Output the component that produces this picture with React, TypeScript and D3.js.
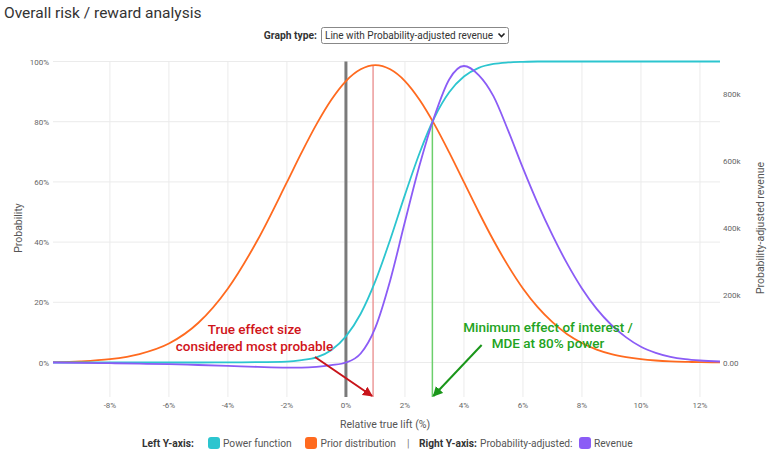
import React from "react";
import * as d3 from "d3";

// ---- Data ----
const lift = [-9.93, -9, -8, -7, -6, -5, -4, -3, -2, -1.5, -1, -0.5, 0, 0.5, 1, 1.5, 2, 2.5, 3, 3.5, 4, 4.5, 5, 5.5, 6, 6.5, 7, 7.5, 8, 8.5, 9, 9.5, 10, 10.5, 11, 11.5, 12, 12.68];
const powerFn = [0, 0, 0, 0, 0, 0, 0.05, 0.1, 0.3, 0.8, 1.7, 4.1, 8.7, 16.2, 27.1, 40.8, 55.7, 69.7, 81.4, 89.8, 95.0, 97.9, 99.2, 99.7, 99.9, 100, 100, 100, 100, 100, 100, 100, 100, 100, 100, 100, 100, 100];
const prior = [0.13, 0.38, 1.1, 2.8, 6.3, 13.2, 24.6, 40.6, 59.9, 69.8, 79.1, 87.2, 93.5, 97.4, 98.8, 97.4, 93.5, 87.2, 79.1, 69.8, 59.9, 50.0, 40.6, 32.1, 24.6, 18.4, 13.4, 9.4, 6.5, 4.3, 2.8, 1.8, 1.1, 0.66, 0.38, 0.22, 0.12, 0.05];
const revenue = [0, -1000, -2000, -3500, -5000, -7500, -10000, -13000, -15000, -15000, -13000, -8000, 0, 27000, 105000, 245000, 420000, 590000, 735000, 845000, 885000, 858000, 795000, 692000, 580000, 475000, 380000, 295000, 221000, 160000, 112000, 75000, 47000, 29000, 17000, 10000, 6000, 3000];

const xTicks = [-8, -6, -4, -2, 0, 2, 4, 6, 8, 10, 12];
const leftTicks = [0, 20, 40, 60, 80, 100];
const rightTicks = [0, 200000, 400000, 600000, 800000];

const mostProbable = 0.92;
const mde = 2.93;
const mdePower = 80;

const COLORS = { power: "#2cc5cf", prior: "#ff6a1f", revenue: "#8b5cf6" };
const FONT = "Roboto, 'Noto Sans', sans-serif";

export default function App() {
  const W = 768, H = 459;
  const plot = { left: 53, right: 720, top: 61.5, bottom: 397 };
  const x = d3.scaleLinear().domain([-9.93, 12.68]).range([plot.left, plot.right]);
  const yL = d3.scaleLinear().domain([0, 100]).range([362.5, 61.5]);
  const yR = d3.scaleLinear().domain([0, 898500]).range([362.5, 61.5]);

  const idx = lift.map((_, i) => i);
  const lineL = (vals: number[]) =>
    d3.line<number>().x((i) => x(lift[i])).y((i) => yL(vals[i])).curve(d3.curveMonotoneX)(idx) || "";
  const lineR = (vals: number[]) =>
    d3.line<number>().x((i) => x(lift[i])).y((i) => yR(vals[i])).curve(d3.curveMonotoneX)(idx) || "";

  const tickColor = "#666";

  return (
    <svg width={W} height={H} style={{ position: "absolute", left: 0, top: 0, fontFamily: FONT }}>
      <defs>
        <marker id="arrRed" viewBox="0 0 10 10" refX="9" refY="5" markerWidth="5" markerHeight="5" orient="auto">
          <path d="M0,0 L10,5 L0,10 z" fill="#c8141a" />
        </marker>
        <marker id="arrGreen" viewBox="0 0 10 10" refX="9" refY="5" markerWidth="5" markerHeight="5" orient="auto">
          <path d="M0,0 L10,5 L0,10 z" fill="#1a961a" />
        </marker>
      </defs>
      <rect width={W} height={H} fill="#fff" />

      {/* Title */}
      <text x={4} y={18} fontSize={15.5} fill="#333">Overall risk / reward analysis</text>

      {/* Graph type select */}
      <text x={317} y={39} fontSize={10.3} fontWeight={700} fill="#333" textAnchor="end">Graph type:</text>
      <rect x={321.5} y={27.5} width={187} height={16} rx={2} fill="#fff" stroke="#888" />
      <text x={325} y={39} fontSize={10} fill="#333">Line with Probability-adjusted revenue</text>
      <path d="M498.5,33.5 L501.5,36.5 L504.5,33.5" fill="none" stroke="#222" strokeWidth={1.6} />

      {/* Grid */}
      {leftTicks.map((t) => (
        <line key={"h" + t} x1={plot.left} x2={plot.right} y1={yL(t)} y2={yL(t)} stroke="#ebebeb" />
      ))}
      {xTicks.map((t) => (
        <line key={"v" + t} x1={x(t)} x2={x(t)} y1={plot.top} y2={plot.bottom} stroke="#ebebeb" />
      ))}

      {/* Left ticks */}
      {leftTicks.map((t) => (
        <text key={"lt" + t} x={49} y={yL(t) + 3} fontSize={8} fill={tickColor} textAnchor="end">{t}%</text>
      ))}
      {/* Right ticks */}
      {rightTicks.map((t) => (
        <text key={"rt" + t} x={723} y={yR(t) + 3} fontSize={8} fill={tickColor}>{t === 0 ? "0.00" : `${t / 1000}k`}</text>
      ))}
      {/* X ticks */}
      {xTicks.map((t) => (
        <text key={"xt" + t} x={x(t)} y={408} fontSize={8} fill={tickColor} textAnchor="middle">{t}%</text>
      ))}

      {/* Axis titles */}
      <text x={385} y={428} fontSize={10.5} fill="#555" textAnchor="middle">Relative true lift (%)</text>
      <text transform={`translate(22,228) rotate(-90)`} fontSize={10.5} fill="#555" textAnchor="middle">Probability</text>
      <text transform={`translate(764,228) rotate(-90)`} fontSize={10.5} fill="#555" textAnchor="middle">Probability-adjusted revenue</text>

      {/* Zero line */}
      <line x1={x(0)} x2={x(0)} y1={plot.top} y2={plot.bottom} stroke="#7a7a7a" strokeWidth={3} />

      {/* Reference vertical lines */}
      <line x1={x(mostProbable)} x2={x(mostProbable)} y1={yL(98.8)} y2={plot.bottom} stroke="#ec9a9a" strokeWidth={1.5} />
      <line x1={x(mde)} x2={x(mde)} y1={yL(mdePower)} y2={plot.bottom} stroke="#6ccf6c" strokeWidth={1.5} />

      {/* Series */}
      <path d={lineL(prior)} fill="none" stroke={COLORS.prior} strokeWidth={1.8} />
      <path d={lineL(powerFn)} fill="none" stroke={COLORS.power} strokeWidth={1.8} />
      <path d={lineR(revenue)} fill="none" stroke={COLORS.revenue} strokeWidth={1.8} />

      {/* Annotations */}
      <text x={x(-3.1)} y={334} fontSize={13.5} fontWeight={500} fill="#d0141a" textAnchor="middle">True effect size</text>
      <text x={x(-3.1)} y={350.5} fontSize={13.5} fontWeight={500} fill="#d0141a" textAnchor="middle">considered most probable</text>
      <line x1={x(-1.05)} y1={357} x2={x(mostProbable) - 1} y2={plot.bottom - 1} stroke="#c8141a" strokeWidth={2} markerEnd="url(#arrRed)" />

      <text x={x(6.85)} y={331.5} fontSize={13.5} fontWeight={500} fill="#22a322" textAnchor="middle">Minimum effect of interest /</text>
      <text x={x(6.85)} y={348.3} fontSize={13.5} fontWeight={500} fill="#22a322" textAnchor="middle">MDE at 80% power</text>
      <line x1={x(4.6)} y1={345} x2={x(mde) + 1} y2={plot.bottom - 1} stroke="#1a961a" strokeWidth={2} markerEnd="url(#arrGreen)" />

      {/* Legend */}
      <g fontSize={10.2}>
        <text x={142} y={446.5} fontWeight={700} fill="#333">Left Y-axis:</text>
        <rect x={208} y={437} width={12} height={12} rx={3} fill={COLORS.power} />
        <text x={223} y={446.5} fill="#555">Power function</text>
        <rect x={305} y={437} width={12} height={12} rx={3} fill={COLORS.prior} />
        <text x={320.5} y={446.5} fill="#555">Prior distribution</text>
        <text x={407} y={446.5} fill="#777">|</text>
        <text x={419} y={446.5} fontWeight={700} fill="#333">Right Y-axis:</text>
        <text x={480} y={446.5} fill="#555">Probability-adjusted:</text>
        <rect x={579} y={437} width={12} height={12} rx={3} fill={COLORS.revenue} />
        <text x={594} y={446.5} fill="#555">Revenue</text>
      </g>
    </svg>
  );
}
